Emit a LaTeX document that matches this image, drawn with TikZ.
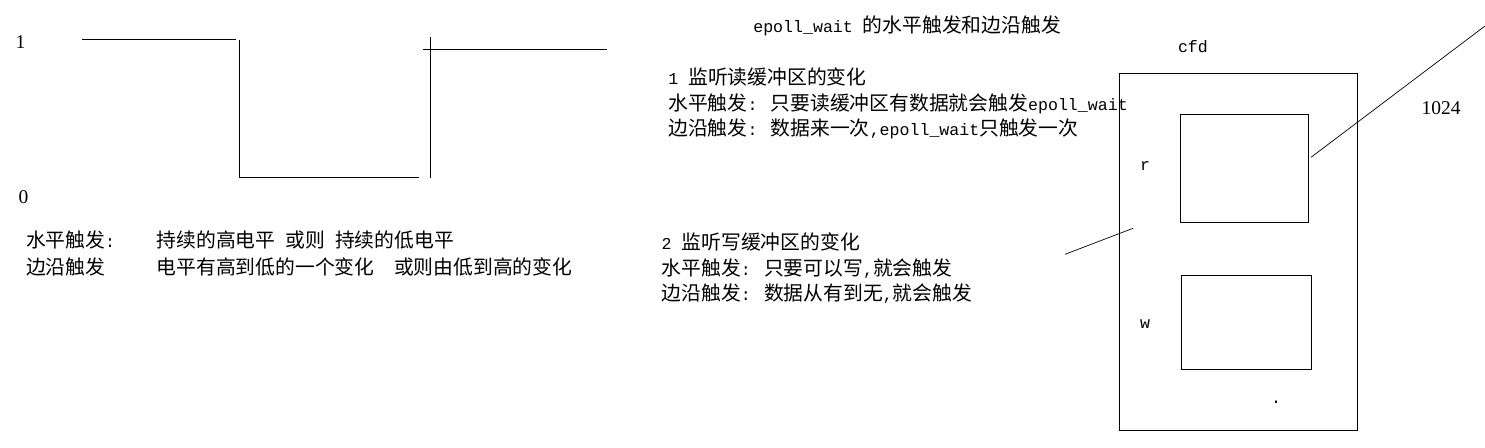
\documentclass[tikz,border=0pt]{standalone}
\usepackage{fontspec}
\setmainfont{Liberation Serif}
\newfontfamily\cjkfont{Noto Sans CJK SC}
\newfontfamily\monofont{Liberation Mono}
\newcommand\zh[1]{{\cjkfont\fontsize{19.8}{24}\selectfont #1}}
\newcommand\en[1]{{\monofont\fontsize{16.6}{24}\selectfont #1}}
\newcommand\num[1]{{\fontsize{19.5}{24}\selectfont #1}}
\begin{document}
\begin{tikzpicture}[x=1pt,y=-1pt,
  txt/.style={inner sep=0pt,outer sep=0pt,anchor=base west},
  wave/.style={line width=1.3pt},
  frame/.style={line width=1pt},
  thin/.style={line width=0.7pt}]
\useasboundingbox[fill=white] (0,0) rectangle (1485,447);

% ---- waveform ----
\coordinate (a1) at (82,39.3);
\coordinate (a2) at (235.7,39.3);
\coordinate (b1) at (239.7,40);
\coordinate (b2) at (239.7,177.3);
\coordinate (b3) at (419,177.3);
\coordinate (c1) at (430.3,37.3);
\coordinate (c2) at (430.3,177.7);
\coordinate (d1) at (422.7,49.3);
\coordinate (d2) at (606.7,49.3);
\draw[wave] (a1) -- (a2);
\draw[wave] (b1) -- (b2) -- (b3);
\draw[wave] (c1) -- (c2);
\draw[wave] (d1) -- (d2);

\node[txt] (one) at (15.7,48.8) {\num{1}};
\node[txt] (zero) at (18.7,203.2) {\num{0}};

% ---- left explanation ----
\node[txt] (l1a) at (26,247.5) {\zh{水平触发}\en{:}};
\node[txt] (l1b) at (156.7,247.5) {\zh{持续的高电平}\en{ }\zh{或则}\en{ }\zh{持续的低电平}};
\node[txt] (l2a) at (26,274.2) {\zh{边沿触发}};
\node[txt] (l2b) at (156.7,274.2) {\zh{电平有高到低的一个变化}\hspace{19.6pt}\zh{或则由低到高的变化}};

% ---- title and right explanation ----
\node[txt] (title) at (753.3,32.5) {\en{epoll\_wait }\zh{的水平触发和边沿触发}};

\node[txt] (r1) at (668.3,84.2) {\en{1 }\zh{监听读缓冲区的变化}};
\node[txt] (r2) at (668.3,110.2) {\zh{水平触发}\en{: }\zh{只要读缓冲区有数据就会触发}\en{epoll\_wait}};
\node[txt] (r3) at (668.3,135.8) {\zh{边沿触发}\en{: }\zh{数据来一次}\en{,epoll\_wait}\zh{只触发一次}};

\node[txt] (w1) at (661.7,249.2) {\en{2 }\zh{监听写缓冲区的变化}};
\node[txt] (w2) at (661.7,275.2) {\zh{水平触发}\en{: }\zh{只要可以写}\en{,}\zh{就会触发}};
\node[txt] (w3) at (661.7,300.8) {\zh{边沿触发}\en{: }\zh{数据从有到无}\en{,}\zh{就会触发}};

% ---- cfd buffer picture ----
\node[txt] (cfd) at (1178,52) {\en{cfd}};
\coordinate (big1) at (1119.3,73.3);
\coordinate (big2) at (1357.3,430);
\draw[frame] (big1) rectangle (big2);
\coordinate (rb1) at (1180.3,114.3);
\coordinate (rb2) at (1308.3,222.3);
\draw[frame] (rb1) rectangle (rb2);
\coordinate (wb1) at (1181.3,275.3);
\coordinate (wb2) at (1311.3,369);
\draw[frame] (wb1) rectangle (wb2);

\node[txt,anchor=base] (r) at (1145,170.7) {\en{r}};
\node[txt,anchor=base] (w) at (1145,328.3) {\en{w}};
\node[txt,anchor=base] (dot) at (1276,403) {\en{.}};
\node[txt] (size) at (1421.5,114.5) {\num{1024}};

\coordinate (p1) at (1311,157.3);
\coordinate (p2) at (1485,26);
\draw[thin] (p1) -- (p2);
\coordinate (q1) at (1065,254.3);
\coordinate (q2) at (1133,228.3);
\draw[thin] (q1) -- (q2);
\end{tikzpicture}
\end{document}
